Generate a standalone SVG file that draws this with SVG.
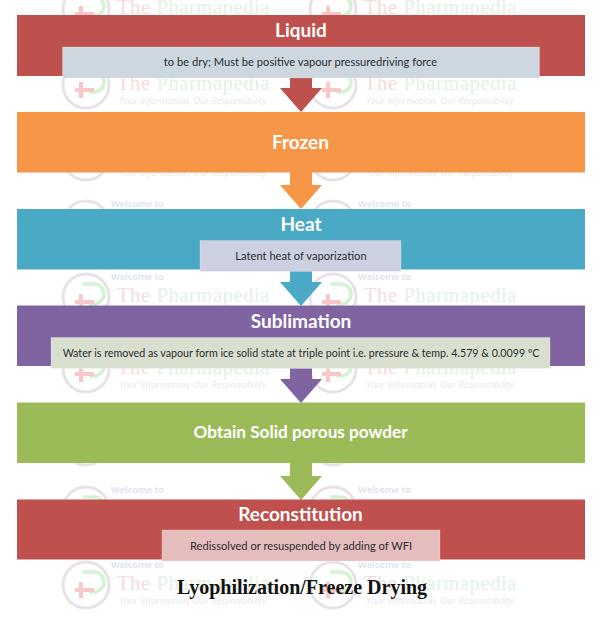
<svg xmlns="http://www.w3.org/2000/svg" xmlns:xlink="http://www.w3.org/1999/xlink" width="600" height="619" viewBox="0 0 600 619">
<style>
.h{font-family:"Lato","Open Sans",sans-serif;font-weight:700;font-size:19px;fill:#fff;text-anchor:middle}
.s{font-family:"Lato","Open Sans",sans-serif;font-size:11.150px;fill:#2a2d30;text-anchor:middle}
.t{font-family:"Liberation Serif",serif;font-weight:700;font-size:20px;fill:#111;text-anchor:middle}
.w1{font-family:"Open Sans",sans-serif;font-weight:700;font-size:9px;fill:#dfe6f0}
.w2{font-family:"Liberation Serif",serif;font-size:20.500px;letter-spacing:.6px;fill:#e3f2e3}
.w2 tspan{fill:#f8dcdc}
.w3{font-family:"Open Sans",sans-serif;font-style:italic;font-size:9.200px;fill:#e6e8f0}
.box{stroke:none}
.sub{stroke:#fff;stroke-opacity:.35;stroke-width:.6}
</style>
<defs>
<g id="wm">
<circle cx="0" cy="0" r="23" fill="none" stroke="#e8e2e8" stroke-width="3"/>
<path d="M-3 -13H8A10 10 0 0 1 8 7H3" fill="none" stroke="#d4f2d4" stroke-width="3.5"/>
<path d="M-11 5H8M-5 -3V13" fill="none" stroke="#f8c8c8" stroke-width="4"/>
<text class="w1" x="25" y="-17">Welcome to</text>
<text class="w2" x="31" y="5"><tspan>The</tspan> Pharmapedia</text>
<text class="w3" x="33" y="19">Your Information, Our Responsibility</text>
</g>
</defs>
<rect width="600" height="619" fill="#fff"/>
<g id="watermark">
<use xlink:href="#wm" href="#wm" x="86" y="9"/><use xlink:href="#wm" href="#wm" x="333" y="9"/>
<use xlink:href="#wm" href="#wm" x="86" y="85"/><use xlink:href="#wm" href="#wm" x="333" y="85"/>
<use xlink:href="#wm" href="#wm" x="86" y="157"/><use xlink:href="#wm" href="#wm" x="333" y="157"/>
<use xlink:href="#wm" href="#wm" x="86" y="224"/><use xlink:href="#wm" href="#wm" x="333" y="224"/>
<use xlink:href="#wm" href="#wm" x="86" y="297"/><use xlink:href="#wm" href="#wm" x="333" y="297"/>
<use xlink:href="#wm" href="#wm" x="86" y="369"/><use xlink:href="#wm" href="#wm" x="333" y="369"/>
<use xlink:href="#wm" href="#wm" x="86" y="442"/><use xlink:href="#wm" href="#wm" x="333" y="442"/>
<use xlink:href="#wm" href="#wm" x="86" y="510"/><use xlink:href="#wm" href="#wm" x="333" y="510"/>
<use xlink:href="#wm" href="#wm" x="86" y="585"/><use xlink:href="#wm" href="#wm" x="333" y="585"/>
</g>
<g id="connectors">
<path d="M290 76H312V88H322L301 112L280 88H290Z" fill="#be504d"/>
<path d="M290 172H312V185H322L301 209L280 185H290Z" fill="#f79646"/>
<path d="M290 269H312V282H322L301 306L280 282H290Z" fill="#4aa9c5"/>
<path d="M290 366H312V379H322L301 403L280 379H290Z" fill="#8064a2"/>
<path d="M290 463H312V476H322L301 500L280 476H290Z" fill="#9bbb59"/>
</g>
<g id="node-liquid">
<rect class="box" x="17" y="15" width="568" height="61" fill="#be504d"/>
<text class="h" x="301" y="37">Liquid</text>
<rect class="sub" x="62.500" y="47" width="477" height="31" fill="#cdd7df"/>
<text class="s" x="300.500" y="65.500">to be dry; Must be positive vapour pressuredriving force</text>
</g>
<g id="node-frozen">
<rect class="box" x="17" y="112" width="568" height="60.500" fill="#f79646"/>
<text class="h" x="300.500" y="149">Frozen</text>
</g>
<g id="node-heat">
<rect class="box" x="17" y="209" width="568" height="60.500" fill="#4aa9c5"/>
<text class="h" x="301" y="231">Heat</text>
<rect class="sub" x="200" y="240.500" width="201" height="31" fill="#cdd0e1"/>
<text class="s" x="301" y="259.500">Latent heat of vaporization</text>
</g>
<g id="node-sublimation">
<rect class="box" x="17" y="305.500" width="568" height="60.500" fill="#8064a2"/>
<text class="h" x="301" y="328">Sublimation</text>
<rect class="sub" x="51" y="337.500" width="499" height="31" fill="#d9dfcf"/>
<text class="s" style="font-size:10.700px" x="301" y="356.500">Water is removed as vapour form ice solid state at triple point i.e. pressure &amp; temp. 4.579 &amp; 0.0099 ºC</text>
</g>
<g id="node-powder">
<rect class="box" x="17" y="402.500" width="568" height="60.500" fill="#9bbb59"/>
<text class="h" style="font-size:17.200px" x="300.500" y="438">Obtain Solid porous powder</text>
</g>
<g id="node-reconstitution">
<rect class="box" x="17" y="499.500" width="568" height="60" fill="#c0504d"/>
<text class="h" x="300.500" y="521">Reconstitution</text>
<rect class="sub" x="162" y="530" width="278" height="31" fill="#e5bdbd"/>
<text class="s" x="301" y="549.500">Redissolved or resuspended by adding of WFI</text>
</g>
<g id="title">
<text class="t" x="302" y="594">Lyophilization/Freeze Drying</text>
</g>
</svg>
